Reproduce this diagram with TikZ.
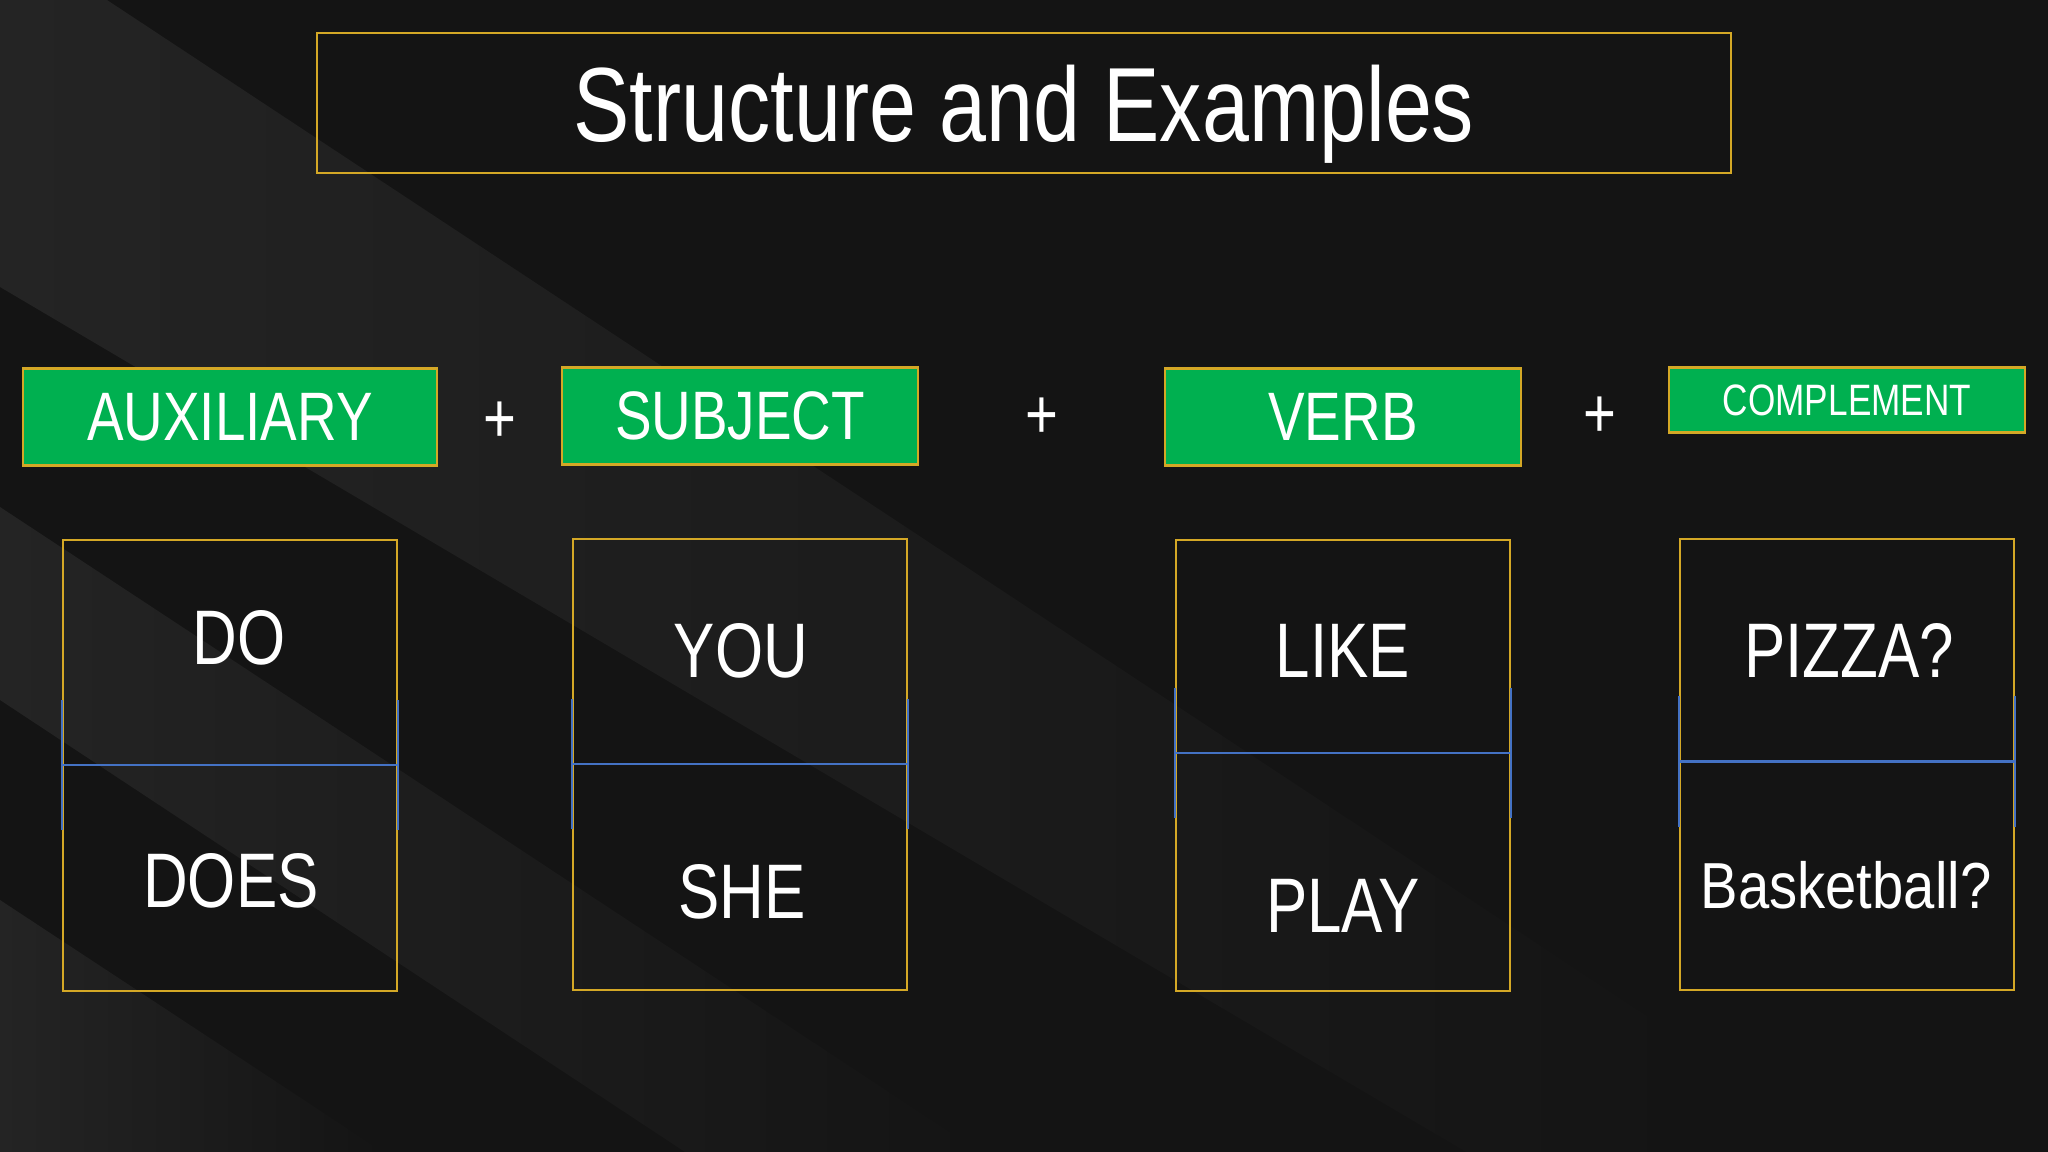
\documentclass[tikz,border=0pt]{standalone}
\usepackage{fontspec}
\setmainfont[FakeStretch=0.8]{Liberation Sans}
\usetikzlibrary{positioning}
\definecolor{gold}{RGB}{212,168,38}
\definecolor{hgreen}{RGB}{0,176,80}
\definecolor{mline}{RGB}{68,114,196}
\definecolor{bg}{RGB}{20,20,20}
\definecolor{band}{RGB}{36,36,36}

\begin{document}
\begin{tikzpicture}[x=0.01cm,y=-0.01cm,
  hd/.style={rectangle,draw=gold,fill=hgreen,text=white,line width=0.6pt,minimum width=3.55cm,minimum height=9.7mm,inner sep=0pt,font=\fontsize{19.5}{22}\selectfont},
  ex/.style={rectangle,draw=gold,line width=0.6pt,minimum width=3.34cm,minimum height=4.51cm},
  w/.style={text=white,anchor=base,font=\fontsize{22}{26}\selectfont},
  pl/.style={text=white,font=\fontsize{20}{24}\selectfont},
  mid/.style={draw=mline,line width=0.6pt},
  bd/.style={left color=band,right color=bg}]
  \useasboundingbox (0,0) rectangle (2048,1152);
  \fill[bg] (0,0) rectangle (2048,1152);
  \begin{scope}
    \clip (0,0) rectangle (2048,1152);
    \shade[bd] (107,0) -- (1700,1051) -- (1700,1290) -- (0,287) -- (0,0) -- cycle;
    \shade[bd] (0,507) -- (980,1152) -- (685,1152) -- (0,700) -- cycle;
    \shade[bd] (0,900) -- (383,1152) -- (0,1152) -- cycle;
  \end{scope}

  \node[draw=gold,line width=0.6pt,minimum width=14.13cm,minimum height=1.4cm,text=white,text depth=0pt,font=\fontsize{30}{36}\selectfont] (title) at (1024,103) {Structure and Examples};

  \node[hd,minimum width=4.13cm] (aux) at (230,417) {AUXILIARY};
  \node[hd] (subj) at (740,416) {SUBJECT};
  \node[hd] (verb) at (1343,417) {VERB};
  \node[hd,minimum height=6.5mm,font=\fontsize{12.5}{15}\selectfont] (comp) at (1847,400) {COMPLEMENT};

  \node[pl] (p1) at (500,422) {+};
  \node[pl] (p2) at (1042,418) {+};
  \node[pl] (p3) at (1600,417) {+};

  \node[ex,below=7.2mm of aux] (b1) {};
  \node[ex,below=7.2mm of subj] (b2) {};
  \node[ex,below=7.2mm of verb] (b3) {};
  \node[ex,below=10.4mm of comp] (b4) {};

  \foreach \b/\d in {b1/0pt,b2/0pt,b3/3.5pt,b4/0.8pt}{
    \draw[mid] ([yshift=\d]\b.west) -- ([yshift=\d]\b.east);
    \draw[mid] ([yshift=\d+18.5pt]\b.west) -- ([yshift=\d-18.5pt]\b.west);
    \draw[mid] ([yshift=\d+18.5pt]\b.east) -- ([yshift=\d-18.5pt]\b.east);
  }

  \node[w] (do) at (239,664) {DO};
  \node[w] (does) at (231,907) {DOES};
  \node[w] (you) at (741,677) {YOU};
  \node[w] (she) at (742,918) {SHE};
  \node[w] (like) at (1343,677) {LIKE};
  \node[w] (play) at (1343,932) {PLAY};
  \node[w] (pizza) at (1849,677) {PIZZA?};
  \node[w,font=\fontsize{18.5}{22}\selectfont] (ball) at (1846,908) {\scalebox{1.08}[1]{Basketball?}};
\end{tikzpicture}
\end{document}
